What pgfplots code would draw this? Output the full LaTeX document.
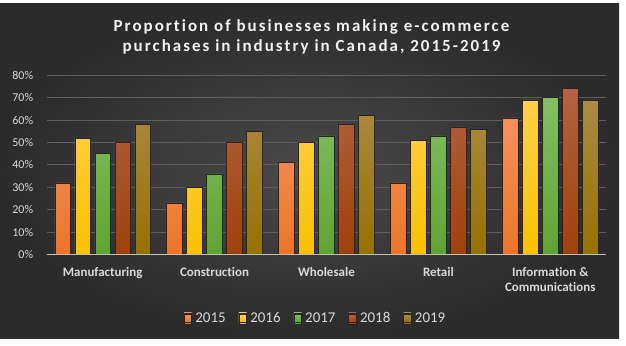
\documentclass[border=0pt]{standalone}
\usepackage{pgfplots}
\pgfplotsset{compat=1.18}
\usepackage{fontspec}
\setmainfont{Carlito}[Ligatures=NoCommon]
\definecolor{bgin}{HTML}{4A4A4A}
\definecolor{bgout}{HTML}{2B2B2B}
\definecolor{gridc}{HTML}{5E5E5E}
\definecolor{axisc}{HTML}{BFBFBF}
\definecolor{labc}{HTML}{D9D9D9}
\definecolor{titlec}{HTML}{F2F2F2}
\definecolor{barline}{HTML}{262626}
\definecolor{cAt}{HTML}{F49060}\definecolor{cA}{HTML}{ED7428}
\definecolor{cBt}{HTML}{FFD04A}\definecolor{cB}{HTML}{FAC000}
\definecolor{cCt}{HTML}{84BE64}\definecolor{cC}{HTML}{5EA432}
\definecolor{cDt}{HTML}{B46242}\definecolor{cD}{HTML}{9E420A}
\definecolor{cEt}{HTML}{AC8A44}\definecolor{cE}{HTML}{977100}
\newfontfamily\titlefont[LetterSpace=12,Ligatures=NoCommon]{Carlito}
\begin{document}
\begin{tikzpicture}[x=1bp,y=1bp]
\path[use as bounding box] (0,0) rectangle (626,345);
\fill[white] (0,0) rectangle (626,345);
\shade[inner color=bgin, outer color=bgout] (0,7) rectangle (619,341);
\node[anchor=base, text=titlec, inner sep=0pt, font=\titlefont\bfseries\fontsize{17}{20}\selectfont] at (311.5,314) {Proportion of businesses making e-commerce};
\node[anchor=base, text=titlec, inner sep=0pt, font=\titlefont\bfseries\fontsize{17}{20}\selectfont] at (311.5,293.3) {purchases in industry in Canada, 2015-2019};
\begin{axis}[
  at={(46.7bp,90.5bp)}, anchor=south west, scale only axis,
  width=559.5bp, height=179.2bp,
  ybar=4.3bp, bar width=15.7bp,
  xmin=-0.5, xmax=4.5, ymin=0, ymax=80,
  xtick={0,1,2,3,4},
  xticklabels={Manufacturing, Construction, Wholesale, Retail, {Information \&\\Communications}},
  ytick={0,10,20,30,40,50,60,70,80},
  yticklabels={0\%,10\%,20\%,30\%,40\%,50\%,60\%,70\%,80\%},
  major tick length=0pt,
  axis line style={draw=none},
  ymajorgrids, grid style={draw=gridc, line width=0.9bp},
  yticklabel style={text=labc, font=\fontsize{12}{14}\selectfont, inner sep=0pt, xshift=-13.4bp},
  xticklabel style={text=labc, font=\bfseries\fontsize{13}{15.7}\selectfont, inner sep=0pt, yshift=-12.5bp, align=center, anchor=north},
  legend columns=5,
  legend cell align=left,
  legend style={at={(0.4787,-0.356)}, anchor=center, draw=none, fill=none, text=labc,
    font=\fontsize{15}{18}\selectfont, nodes={inner sep=0pt, anchor=base west, text height=10bp, text depth=1bp},
    /tikz/every even column/.append style={column sep=13bp},
    /tikz/every odd column/.append style={column sep=3.4bp}},
  legend image code/.code={\path (0bp,-1bp) rectangle (7.7bp,10bp); \fill[#1] (0bp,0.9bp) rectangle (7.7bp,8.6bp);},
]
\addplot[draw=barline, line width=0.5bp, top color=cAt, bottom color=cA] coordinates {(0,32) (1,23) (2,41) (3,32) (4,61)};
\addplot[draw=barline, line width=0.5bp, top color=cBt, bottom color=cB] coordinates {(0,52) (1,30) (2,50) (3,51) (4,69)};
\addplot[draw=barline, line width=0.5bp, top color=cCt, bottom color=cC] coordinates {(0,45) (1,36) (2,53) (3,53) (4,70)};
\addplot[draw=barline, line width=0.5bp, top color=cDt, bottom color=cD] coordinates {(0,50) (1,50) (2,58) (3,57) (4,74)};
\addplot[draw=barline, line width=0.5bp, top color=cEt, bottom color=cE] coordinates {(0,58) (1,55) (2,62) (3,56) (4,69)};
\legend{2015,2016,2017,2018,2019}
\draw[axisc, line width=1.6bp] (rel axis cs:0,0) -- (rel axis cs:1,0);
\end{axis}
\end{tikzpicture}
\end{document}
